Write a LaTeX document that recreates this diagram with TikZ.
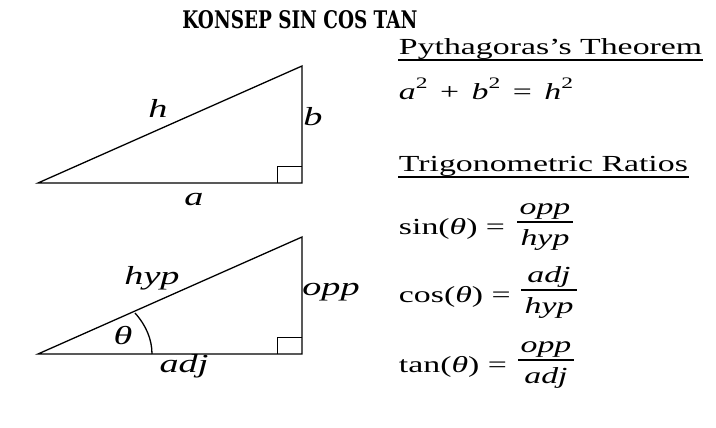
\documentclass[tikz,border=0pt]{standalone}
\usepackage{fontspec}
\setmainfont{Liberation Serif}
\newfontfamily\titlefont{DejaVu Serif}
\usepackage{graphicx}
\usepackage{tikz}
\newcommand\sqr{\raisebox{11pt}{\fontsize{16}{16}\selectfont 2}}
\newcommand\opgap{\hspace{.37em}}
\tikzset{%
  every title/.style={
    inner sep=0pt,
    font=\titlefont\bfseries
  },
  every side/.style={
    inner sep=0pt,
    xscale=1.47,
    font=\fontsize{26}{30}\selectfont\itshape
  },
  every ratio/.style={
    inner sep=0pt,
    xscale=1.47,
    anchor=base west,
    font=\fontsize{23}{27}\selectfont
  },
  underline/.style={
    line width=1.2pt
  },
  right angle/.style={
    line width=0.9pt
  },
}

\begin{document}
\begin{tikzpicture}[x=1pt, y=1pt, line width=1.3pt]
        \useasboundingbox (0,0) rectangle (716,428);

        \node [every title] (title) at (300,408)
          {\resizebox{235pt}{18pt}{KONSEP SIN COS TAN}};

        % the two triangles
        \foreach \t/\y in {pyth/245, trig/74} {
          \coordinate (\t-a) at (38,\y);
          \coordinate (\t-b) at (302,\y);
          \coordinate (\t-c) at (302,\y+117);
          \draw [line join=miter] (\t-a) -- (\t-b) -- (\t-c) -- cycle;
          \draw [right angle] ([xshift=-25pt]\t-b) -- ++(0,17) -- ++(25,0);
        }
        \draw (trig-a) ++(114,0)
          arc [start angle=0, end angle=31.7, x radius=114, y radius=78];

        \node [every side] (h) at (158,320) {h};
        \node [every side] (b) at (313,311) {b};
        \node [every side] (a) at (194,228) {a};
        \node [every side, anchor=base] (hyp) at (152,143) {hyp};
        \node [every side, anchor=base] (opp) at (331,132) {opp};
        \node [every side, anchor=base] (theta) at (123,83) {θ};
        \node [every side, anchor=base] (adj) at (184,55) {adj};

        % formulas
        \node [every ratio] (pyth-title) at (398,373) {Pythagoras’s Theorem};
        \draw [underline] ([yshift=-5pt]pyth-title.base west)
          -- ([yshift=-5pt]pyth-title.base east);
        \node [every ratio] (pyth-eq) at (398,328)
          {\textit{a}\sqr\opgap+\opgap\textit{b}\sqr\opgap=\opgap\textit{h}\sqr};

        \node [every ratio] (trig-title) at (398,256) {Trigonometric Ratios};
        \draw [underline] ([yshift=-5pt]trig-title.base west)
          -- ([yshift=-5pt]trig-title.base east);

        \foreach \f/\n/\d/\y/\xc in {sin/opp/hyp/193/545, cos/adj/hyp/125/549, tan/opp/adj/55/546} {
          \node [every ratio] (\f-lhs) at (398,\y) {\f(\textit{θ}) =};
          \coordinate (\f-bar-l) at (\xc-28,\y+13);
          \coordinate (\f-bar-r) at (\xc+28,\y+13);
          \draw [underline] (\f-bar-l) -- (\f-bar-r);
          \node [every ratio, anchor=base] (\f-num) at (\xc,\y+20) {\textit{\n}};
          \node [every ratio, anchor=base] (\f-den) at (\xc,\y-11) {\textit{\d}};
        }
\end{tikzpicture}
\end{document}
